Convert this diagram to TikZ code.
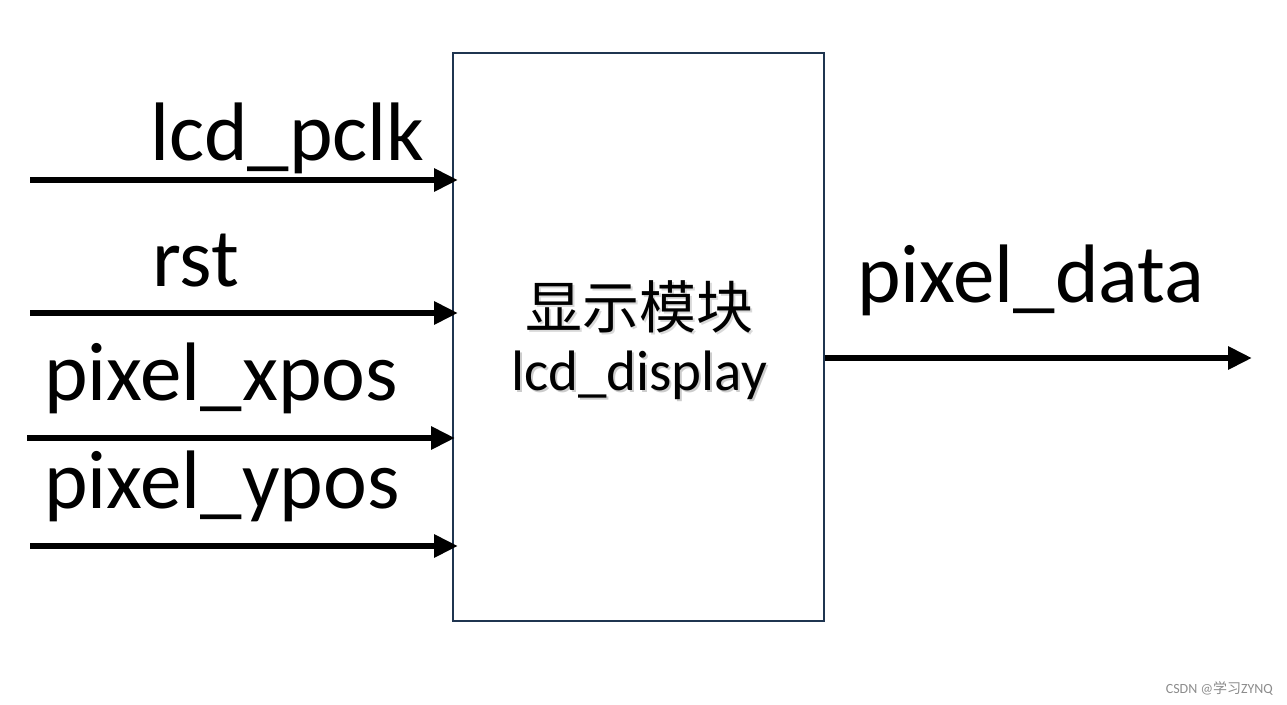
\documentclass[tikz,border=0pt]{standalone}
\usepackage{fontspec}
\setmainfont{Carlito}
\newfontfamily\cjk{Noto Sans CJK SC}
\usetikzlibrary{arrows.meta}
\definecolor{boxline}{HTML}{1F3550}
\begin{document}
\begin{tikzpicture}[x=1pt,y=-1pt,
  sig/.style={line width=6.5pt,-{Triangle[length=24pt,width=22pt]}},
  lbl/.style={anchor=base west,inner sep=0pt,font=\fontsize{83}{90}\selectfont},
  ctr/.style={inner sep=0pt,font=\fontsize{57}{64}\selectfont}]
\useasboundingbox (0,0) rectangle (1287,704);
\node[draw=boxline,line width=1.5pt,minimum width=371pt,minimum height=568pt,inner sep=0pt] (blk) at (638.5,337) {};
\coordinate (a1s) at (30,180); \coordinate (a1e) at (458,180);
\coordinate (a2s) at (30,313); \coordinate (a2e) at (458,313);
\coordinate (a3s) at (27,438); \coordinate (a3e) at (455,438);
\coordinate (a4s) at (30,546); \coordinate (a4e) at (458,546);
\coordinate (oe) at (1252,358);
\draw[sig] (a1s) -- (a1e);
\draw[sig] (a2s) -- (a2e);
\draw[sig] (a3s) -- (a3e);
\draw[sig] (a4s) -- (a4e);
\draw[sig] (blk.east |- oe) -- (oe);
\node[lbl] (l1) at (150,160) {lcd\_pclk};
\node[lbl] (l2) at (152,286) {rst};
\node[lbl] (l3) at (44,400) {pixel\_xpos};
\node[lbl] (l4) at (44,508) {pixel\_ypos};
\node[lbl] (l5) at (857,302) {pixel\_data};
\node[ctr,font=\cjk\fontsize{57}{64}\selectfont,text=black!15] at (641,309) {显示模块};
\node[ctr,font=\cjk\fontsize{57}{64}\selectfont] (c1) at (639,307) {显示模块};
\node[ctr,anchor=base,text=black!20] at (641,392) {lcd\_display};
\node[ctr,anchor=base] (c2) at (639,390) {lcd\_display};
\node[anchor=base east,inner sep=0pt,text=black!45,font=\fontsize{14}{16}\selectfont] (wm) at (1273,693) {CSDN @{\cjk 学习}ZYNQ};
\end{tikzpicture}
\end{document}
